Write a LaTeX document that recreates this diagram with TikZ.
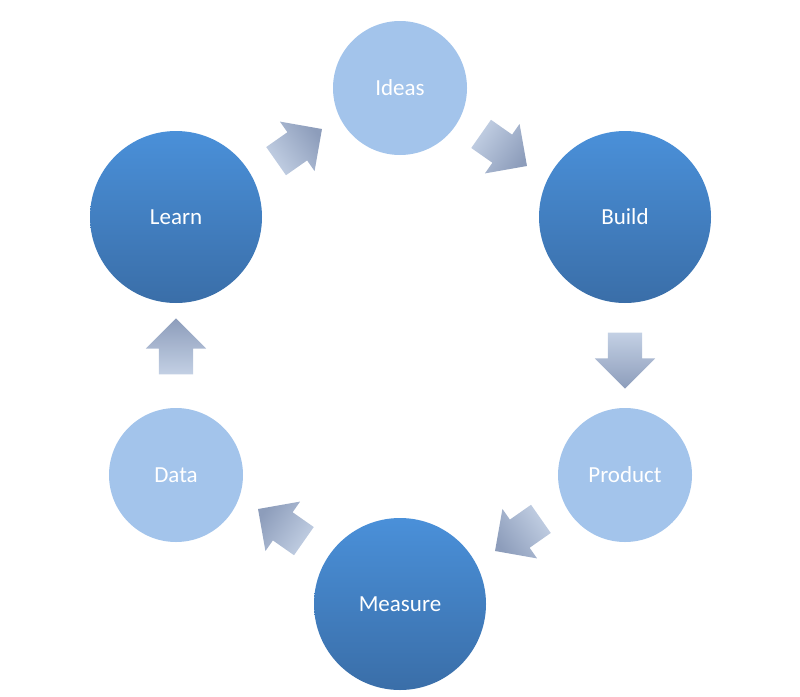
\documentclass[tikz,border=0pt]{standalone}
\usepackage{fontspec}
\setmainfont{Carlito}
\usetikzlibrary{shapes.arrows}
\definecolor{darkT}{HTML}{4A90D9}
\definecolor{darkB}{HTML}{3A6EA8}
\definecolor{lightC}{HTML}{A3C4EB}
\definecolor{arrL}{HTML}{C3D0E4}
\definecolor{arrD}{HTML}{8D9DBB}
\tikzset{
  bigc/.style={circle,minimum size=172pt,inner sep=0pt,top color=darkT,bottom color=darkB,text=white,font=\fontsize{23}{27}\selectfont},
  smallc/.style={circle,minimum size=134pt,inner sep=0pt,fill=lightC,text=white,font=\fontsize{23}{27}\selectfont},
  barrow/.style={single arrow,minimum height=56pt,inner xsep=0pt,inner ysep=17pt,single arrow head extend=13pt,single arrow head indent=0pt,top color=arrL,bottom color=arrD,shading angle=#1}
}
\begin{document}
\begin{tikzpicture}[x=1pt,y=-1pt]
\useasboundingbox (0,0) rectangle (800,696);
\node[smallc] (ideas) at (400,88) {Ideas};
\node[bigc] (build) at (625,217) {Build};
\node[smallc] (product) at (625,475) {Product};
\node[bigc] (measure) at (400,604) {Measure};
\node[smallc] (data) at (176,475) {Data};
\node[bigc] (learn) at (176,217) {Learn};
\node[barrow=125,rotate=35] (a1) at (292,150) {};
\node[barrow=55,rotate=-35] (a2) at (497,145) {};
\node[barrow=0,rotate=-90] (a3) at (625,352) {};
\node[barrow=-55,rotate=-145] (a4) at (525,530) {};
\node[barrow=235,rotate=145] (a5) at (288,530) {};
\node[barrow=180,rotate=90] (a6) at (176,355) {};
\end{tikzpicture}
\end{document}
